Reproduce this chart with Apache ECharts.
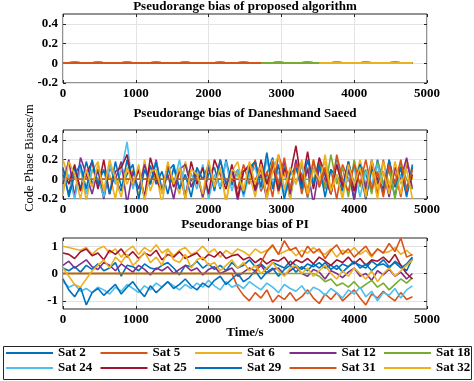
<!DOCTYPE html>
<html>
<head>
<meta charset="utf-8">
<script src="https://cdn.jsdelivr.net/npm/echarts@6/dist/echarts.min.js"></script>
<style>html,body{margin:0;padding:0;background:#fff}#c{width:474px;height:381px}</style>
</head>
<body>
<div id="c"></div>
<script>
const time = [0,80,160,240,320,400,480,560,640,720,800,880,960,1040,1120,1200,1280,1360,1440,1520,1600,1680,1760,1840,1920,2000,2080,2160,2240,2320,2400,2480,2560,2640,2720,2800,2880,2960,3040,3120,3200,3280,3360,3440,3520,3600,3680,3760,3840,3920,4000,4080,4160,4240,4320,4400,4480,4560,4640,4720,4800];
const satNames = ['Sat 2','Sat 5','Sat 6','Sat 12','Sat 18','Sat 24','Sat 25','Sat 29','Sat 31','Sat 32'];
const satColors = ['#0072BD','#D95319','#EDB120','#7E2F8E','#77AC30','#4DBEEE','#A2142F','#0072BD','#D95319','#EDB120'];
const xTicks = [0,1000,2000,3000,4000,5000];
const yTicksSmall = [-0.2,0,0.2,0.4];
const yTicksPI = [-1,0,1];
const titles = ['Pseudorange bias of proposed algorithm','Pseudorange bias of Daneshmand Saeed','Pseudorange bias of PI'];

// Panel 1: proposed algorithm (near zero)
const topBias = [0.004,0.003,0.005,0.004,0.003,0.004,0.005,0.003,0.004,0.004,0.003,0.005,0.004,0.003,0.004,0.004,0.005,0.003,0.004,0.003,0.004,0.005,0.004,0.003,0.004,0.004,0.003,0.005,0.004,0.003,0.004,0.005,0.004,0.003,0.004,0.004,0.003,0.005,0.004,0.004,0.003,0.004,0.005,0.004,0.003,0.004,0.004,0.005,0.003,0.004,0.004,0.003,0.005,0.004,0.004,0.003,0.004,0.005,0.004,0.003,0.004];
const topEndIndex = [60,60,60,60,44,60,60,60,34,60];

// Panel 2: Daneshmand Saeed
const dsSat2 = [0.05,-0.15,0.12,-0.1,0.18,-0.05,0.1,-0.18,0.15,0.0,-0.12,0.2,-0.08,0.1,-0.2,0.14,-0.05,0.08,-0.15,0.12,-0.1,0.16,-0.02,0.1,-0.18,0.05,0.12,-0.1,0.2,-0.06,0.1,-0.15,0.08,0.18,-0.12,0.05,0.22,-0.08,0.12,-0.2,0.15,0.0,-0.1,0.18,-0.05,0.12,-0.15,0.2,-0.08,0.1,-0.22,0.15,0.05,-0.12,0.2,-0.05,0.1,-0.18,0.16,-0.1,0.12];
const dsSat5 = [0,0,0,0,0,0,0,0,0,0,0,0,0,0,0,0,0,0,0,0,0,0,0,0,0,0,0,0,0,0,-0.1,0.15,-0.05,0.2,-0.12,0.08,-0.18,0.25,0.05,-0.1,0.18,-0.15,0.12,-0.05,0.2,-0.08,0.1,-0.2,0.15,0.0,-0.12,0.18,-0.06,0.12,-0.15,0.2,-0.1,0.08,-0.18,0.15,0.0];
const dsSat6 = [0.2,0.0,-0.15,0.12,-0.22,0.08,0.18,-0.1,0.05,-0.2,0.15,-0.05,0.1,-0.18,0.2,-0.12,0.06,-0.25,0.12,0.0,-0.15,0.18,-0.08,0.1,-0.2,0.15,-0.05,0.12,-0.22,0.08,0.18,-0.1,0.05,-0.18,0.12,-0.05,0.2,-0.15,0.1,-0.2,0.14,0.0,-0.12,0.2,-0.08,0.25,-0.1,0.05,-0.18,0.15,-0.05,0.2,-0.12,0.1,-0.2,0.18,-0.05,0.12,-0.15,0.2,0.0];
const dsSat12 = [-0.05,0.2,-0.18,0.22,0.05,-0.15,0.1,-0.2,0.12,0.0,0.18,-0.25,0.08,-0.1,0.15,-0.05,0.2,-0.12,0.05,-0.2,0.1,0.15,-0.08,0.05,-0.18,0.12,-0.1,0.2,-0.05,0.1,-0.22,0.08,0.15,-0.12,0.05,-0.2,0.12,-0.05,0.18,-0.15,0.2,-0.08,0.1,-0.25,0.12,0.0,-0.15,0.18,-0.05,0.1,-0.2,0.15,-0.1,0.2,-0.05,0.08,-0.18,0.12,0.0,0.22,-0.1];
const dsSat18 = [0,0,0,0,0,0,0,0,0,0,0,0,0,0,0,0,0,0,0,0,0,0,0,0,0,0,0,0,0,0,0,0,0,0,0,0,0,0,0,0,0,0,0,0,0.15,-0.1,0.25,-0.05,0.12,-0.18,0.2,-0.08,0.1,-0.15,0.18,-0.05,0.12,-0.2,0.15,0.0,-0.1];
const dsSat24 = [-0.1,0.05,-0.2,0.12,-0.15,0.1,0.0,-0.18,0.15,-0.05,0.08,0.38,-0.1,0.12,-0.2,0.05,0.18,-0.12,0.1,-0.05,0.2,-0.15,0.06,-0.1,0.15,-0.2,0.05,-0.08,0.18,-0.12,0.1,-0.18,0.05,0.12,-0.1,0.2,-0.05,0.08,-0.15,0.1,-0.05,0.15,-0.2,0.12,-0.08,0.05,-0.15,0.18,-0.1,0.0,0.12,-0.18,0.08,-0.05,0.15,-0.12,0.2,-0.08,0.05,-0.15,0.1];
const dsSat25 = [0.1,-0.05,0.15,-0.12,0.05,0.18,-0.1,0.2,-0.15,0.08,0.12,0.25,-0.05,0.1,-0.18,0.22,0.0,-0.12,0.15,-0.08,0.1,-0.2,0.18,-0.05,0.12,-0.15,0.2,0.05,-0.1,0.15,-0.18,0.08,0.12,-0.1,0.2,-0.05,0.15,-0.12,0.1,0.05,0.34,-0.05,0.28,-0.1,0.22,0.05,-0.15,0.15,-0.08,0.18,-0.12,0.1,-0.2,0.15,0.0,-0.1,0.18,-0.05,0.12,-0.15,0.05];
const dsSat29 = [0.12,-0.18,0.05,0.15,-0.1,0.2,-0.05,0.1,-0.15,0.18,-0.08,0.05,0.15,-0.2,0.1,-0.05,0.18,-0.12,0.08,0.15,-0.1,0.05,-0.18,0.12,0.0,0.15,-0.12,0.2,-0.05,0.1,0.05,-0.15,0.12,0.18,-0.08,0.27,-0.1,0.15,-0.2,0.05,0.12,-0.1,0.2,-0.05,0.15,-0.18,0.1,0.02,-0.12,0.18,-0.05,0.15,-0.2,0.1,0.05,-0.15,0.2,-0.08,0.12,-0.18,0.15];
const dsSat31 = [0,0,0,0,0,0,0,0,0,0,0,0,0,0,0,0,0,0,0,0,0,0,0,0,0,0,0,0,0,0,0,0,0,0,0.1,-0.15,0.18,-0.05,0.22,-0.1,0.15,0.05,-0.18,0.2,-0.08,0.12,-0.15,0.25,0.0,-0.12,0.15,-0.05,0.2,-0.1,0.08,-0.18,0.15,-0.05,0.2,-0.12,0.1];
const dsSat32 = [-0.15,0.18,0.05,-0.2,0.1,-0.08,0.15,-0.12,0.2,0.0,-0.18,0.12,-0.05,0.15,-0.22,0.08,0.1,-0.15,0.18,-0.05,0.12,-0.2,0.1,0.05,-0.15,0.2,-0.08,0.12,-0.25,0.1,0.05,-0.12,0.18,-0.05,0.15,-0.2,0.08,0.25,-0.1,0.12,-0.05,0.2,-0.15,0.1,0.0,0.18,-0.12,0.05,-0.2,0.15,-0.05,0.12,-0.18,0.2,-0.1,0.08,-0.15,0.18,-0.05,0.1,-0.2];

// Panel 3: PI
const piSat2 = [0.2,0.1,0.25,0.05,0.3,0.15,0.35,0.1,0.2,0.4,-0.1,0.3,0.25,0.1,0.35,0.2,0.15,0.3,0.4,0.2,-0.05,0.3,0.25,0.45,0.2,0.35,0.15,0.3,0.1,0.4,0.2,0.3,0.5,0.25,0.35,0.15,0.4,0.3,0.2,0.45,0.3,0.15,0.35,0.25,0.4,0.2,0.3,0.15,0.35,0.25,0.4,0.3,0.2,0.45,0.3,0.35,0.2,0.45,0.3,0.1,0.55];
const piSat5 = [0,0,0,0,0,0,0,0,0,0,0,0,0,0,0,0,0,0,0,0,0,0,0,0,0,0,0,0,0,0,-0.5,-0.8,-1.0,-0.7,-0.9,-0.6,-1.05,-0.8,-0.95,-0.7,-1.0,-0.85,-0.6,-0.9,-1.1,-0.75,-0.95,-0.7,-1.0,-0.8,-0.6,-0.9,-1.15,-0.75,-0.9,-0.65,-0.85,-1.0,-0.7,-0.95,-0.85];
const piSat6 = [1.0,0.95,0.9,0.85,0.95,0.7,0.9,1.0,0.75,0.9,0.6,0.85,1.0,0.7,0.95,0.8,1.05,0.75,0.9,0.65,0.85,0.95,0.7,0.8,1.0,0.75,0.9,0.6,0.85,0.7,0.9,0.8,0.65,0.9,0.75,0.85,1.0,0.7,0.8,0.9,0.65,0.85,0.75,0.95,0.8,0.7,0.9,0.6,0.85,0.75,0.95,0.7,0.85,0.6,0.9,0.75,0.8,0.95,0.7,0.85,0.65];
const piSat12 = [0.3,0.45,0.2,0.35,0.5,0.25,0.15,0.4,0.3,0.1,0.35,0.2,0.05,0.3,0.15,-0.05,0.2,0.1,0.25,0.0,0.15,0.3,0.1,0.2,-0.05,0.15,0.25,0.0,0.1,0.2,-0.1,0.05,0.2,0.1,0.3,0.0,0.15,0.2,-0.05,0.1,0.25,0.0,-0.1,0.15,0.05,-0.2,0.1,0.0,-0.15,0.05,0.2,-0.1,0.0,-0.25,0.1,-0.05,0.15,-0.1,0.05,-0.2,0.0];
const piSat18 = [0,0,0,0,0,0,0,0,0,0,0,0,0,0,0,0,0,0,0,0,0,0,0,0,0,0,0,0,0,0,0,0,0,0,0,0,0,0,0,0,0,0,0,0,-0.1,-0.3,-0.2,-0.45,-0.35,-0.5,-0.3,-0.55,-0.4,-0.25,-0.5,-0.35,-0.6,-0.4,-0.2,-0.35,-0.15];
const piSat24 = [-0.3,-0.5,-0.4,-0.65,-0.55,-0.7,-0.5,-0.6,-0.75,-0.5,-0.65,-0.4,-0.55,-0.7,-0.45,-0.6,-0.35,-0.5,-0.3,-0.45,-0.6,-0.4,-0.55,-0.35,-0.5,-0.25,-0.45,-0.6,-0.3,-0.5,-0.4,-0.55,-0.3,-0.45,-0.6,-0.35,-0.5,-0.7,-0.4,-0.55,-0.65,-0.45,-0.75,-0.5,-0.6,-0.8,-0.55,-0.7,-0.9,-0.6,-0.75,-0.5,-0.85,-0.65,-1.0,-0.7,-0.8,-0.55,-0.9,-0.6,-0.45];
const piSat25 = [0.75,0.7,0.55,0.8,0.9,0.65,0.75,0.5,0.85,0.7,0.9,0.6,0.8,0.55,0.75,0.65,0.85,0.5,0.7,0.6,0.8,0.55,0.65,0.75,0.5,0.7,0.6,0.8,0.55,0.65,0.7,0.5,0.6,0.4,0.55,0.35,0.5,0.45,0.6,0.3,0.5,0.4,0.55,0.35,0.6,0.45,0.3,0.5,0.4,0.6,0.35,0.55,0.3,0.5,0.45,0.6,0.4,0.7,0.3,0.0,-0.2];
const piSat29 = [-0.2,-0.6,-0.85,-0.5,-1.15,-0.7,-0.55,-0.8,-0.6,-0.4,-0.75,-0.5,-0.3,-0.6,-0.85,-0.45,-0.7,-0.5,-0.3,-0.55,-0.4,-0.2,-0.45,-0.6,-0.35,-0.5,-0.25,-0.1,-0.4,-0.2,0.0,-0.3,-0.15,0.1,-0.2,0.05,0.2,-0.1,0.15,0.3,0.05,0.25,0.1,0.35,0.2,0.4,0.15,0.3,0.05,0.25,0.45,0.2,0.35,0.1,0.3,0.5,0.25,0.4,0.2,0.35,0.6];
const piSat31 = [0,0,0,0,0,0,0,0,0,0,0,0,0,0,0,0,0,0,0,0,0,0,0,0,0,0,0,0,0,0,0,0,0,0,0.4,0.8,1.05,0.7,1.2,0.85,0.95,0.6,1.0,0.75,0.9,0.55,0.85,1.05,0.7,0.9,0.6,0.8,1.0,0.65,0.9,0.75,1.1,0.8,1.3,0.6,0.7];
const piSat32 = [0.2,-0.1,-0.4,-0.5,-0.2,0.1,0.3,0.5,0.2,0.6,0.4,0.7,0.3,0.5,0.8,0.4,0.6,0.3,0.9,0.5,0.4,0.7,0.2,0.5,0.6,0.3,0.4,0.1,0.3,0.5,0.2,0.4,0.1,0.3,0.0,0.2,0.4,0.1,-0.1,0.2,0.3,0.0,0.2,-0.1,0.1,0.3,0.0,-0.2,0.1,-0.1,0.2,0.0,-0.2,0.1,-0.3,0.0,0.2,-0.1,0.1,0.3,0.5];

const dsData = [dsSat2,dsSat5,dsSat6,dsSat12,dsSat18,dsSat24,dsSat25,dsSat29,dsSat31,dsSat32];
const piData = [piSat2,piSat5,piSat6,piSat12,piSat18,piSat24,piSat25,piSat29,piSat31,piSat32];

const FONT = "'Liberation Serif','Times New Roman',serif";
const INK = '#262626';

const grids = [
  {left:63, top:14, width:364, height:69},
  {left:63, top:130, width:364, height:69},
  {left:63, top:238, width:364, height:71}
];
const yRanges = [[-0.2,0.5,yTicksSmall],[-0.2,0.5,yTicksSmall],[-1.3,1.3,yTicksPI]];

const xAxes = [], yAxes = [];
grids.forEach((g,i)=>{
  xAxes.push({
    type:'value', gridIndex:i, min:0, max:5000, interval:1000, position:'bottom',
    axisLine:{show:false, onZero:false},
    axisTick:{show:true, inside:true, length:3, lineStyle:{color:INK}},
    axisLabel:{show:true, margin:4, color:'#000', fontFamily:FONT, fontWeight:'bold', fontSize:13,
      formatter:v=>String(v)},
    splitLine:{show:true, lineStyle:{color:'#e3e3e3', width:1}}
  });
  xAxes.push({
    type:'value', gridIndex:i, min:0, max:5000, interval:1000, position:'top',
    axisLine:{show:false, onZero:false},
    axisTick:{show:true, inside:true, length:3, lineStyle:{color:INK}},
    axisLabel:{show:false}, splitLine:{show:false}
  });
  const r = yRanges[i];
  yAxes.push({
    type:'value', gridIndex:i, min:r[0], max:r[1], position:'left',
    axisLine:{show:false, onZero:false},
    axisTick:{show:true, inside:true, length:3, lineStyle:{color:INK}, customValues:r[2]},
    axisLabel:{show:true, margin:5, color:'#000', fontFamily:FONT, fontWeight:'bold', fontSize:13,
      customValues:r[2], formatter:v=>String(v)},
    splitLine:{show:true, lineStyle:{color:'#e3e3e3', width:1}}
  });
  yAxes.push({
    type:'value', gridIndex:i, min:r[0], max:r[1], position:'right',
    axisLine:{show:false, onZero:false},
    axisTick:{show:true, inside:true, length:3, lineStyle:{color:INK}, customValues:r[2]},
    axisLabel:{show:false}, splitLine:{show:false}
  });
});

const series = [];
satNames.forEach((name,k)=>{
  const vals = topBias.slice(0, topEndIndex[k]+1);
  series.push({
    type:'line', name, xAxisIndex:0, yAxisIndex:0, symbol:'none', animation:false,
    z: name==='Sat 31' ? 6 : (name==='Sat 18' ? 5 : (name==='Sat 6' ? 4 : 3)),
    lineStyle:{width:2, color:satColors[k]}, itemStyle:{color:satColors[k]},
    data: vals.map((v,i)=>[time[i],v])
  });
});
[dsData, piData].forEach((panel,p)=>{
  panel.forEach((vals,k)=>{
    series.push({
      type:'line', name:satNames[k], xAxisIndex:2*(p+1), yAxisIndex:2*(p+1), symbol:'none', animation:false,
      lineStyle:{width:1.6, color:satColors[k]}, itemStyle:{color:satColors[k]},
      data: vals.map((v,i)=>[time[i],v])
    });
  });
});

const legends = satNames.map((name,k)=>({
  data:[{name, icon:'rect'}], left: 6 + (k%5)*94.5, top: k<5 ? 346 : 361, padding:0,
  itemWidth:47, itemHeight:2, itemGap:0, height:14,
  textStyle:{fontFamily:FONT, fontWeight:'bold', fontSize:13, color:'#000', lineHeight:14},
  selectedMode:false
}));

const titleObjs = [
  {text:titles[0], left:245, top:0},
  {text:titles[1], left:245, top:107},
  {text:titles[2], left:245, top:218}
].map(t=>({
  text:t.text, left:t.left, top:t.top, textAlign:'center', padding:0,
  textStyle:{fontFamily:FONT, fontWeight:'bold', fontSize:13, color:'#000'}
}));

const chart = echarts.init(document.getElementById('c'), null, {renderer:'canvas'});
chart.setOption({
  backgroundColor:'#fff',
  animation:false,
  title: titleObjs,
  grid: grids.map(g=>Object.assign({show:true, borderColor:INK, borderWidth:1, backgroundColor:'transparent', containLabel:false}, g)),
  xAxis: xAxes,
  yAxis: yAxes,
  legend: legends,
  series,
  graphic:[
    {type:'rect', shape:{x:3.5, y:346.5, width:468, height:33}, style:{fill:'none', stroke:INK, lineWidth:1}, silent:true},
    {type:'text', x:30, y:158, rotation:Math.PI/2, style:{text:'Code Phase Biases/m', font:"12.5px 'Liberation Serif','Times New Roman',serif", fill:'#000', textAlign:'center', textVerticalAlign:'middle'}},
    {type:'text', x:245, y:333, style:{text:'Time/s', font:"bold 13px 'Liberation Serif','Times New Roman',serif", fill:'#000', textAlign:'center', textVerticalAlign:'middle'}}
  ]
});
</script>
</body>
</html>
